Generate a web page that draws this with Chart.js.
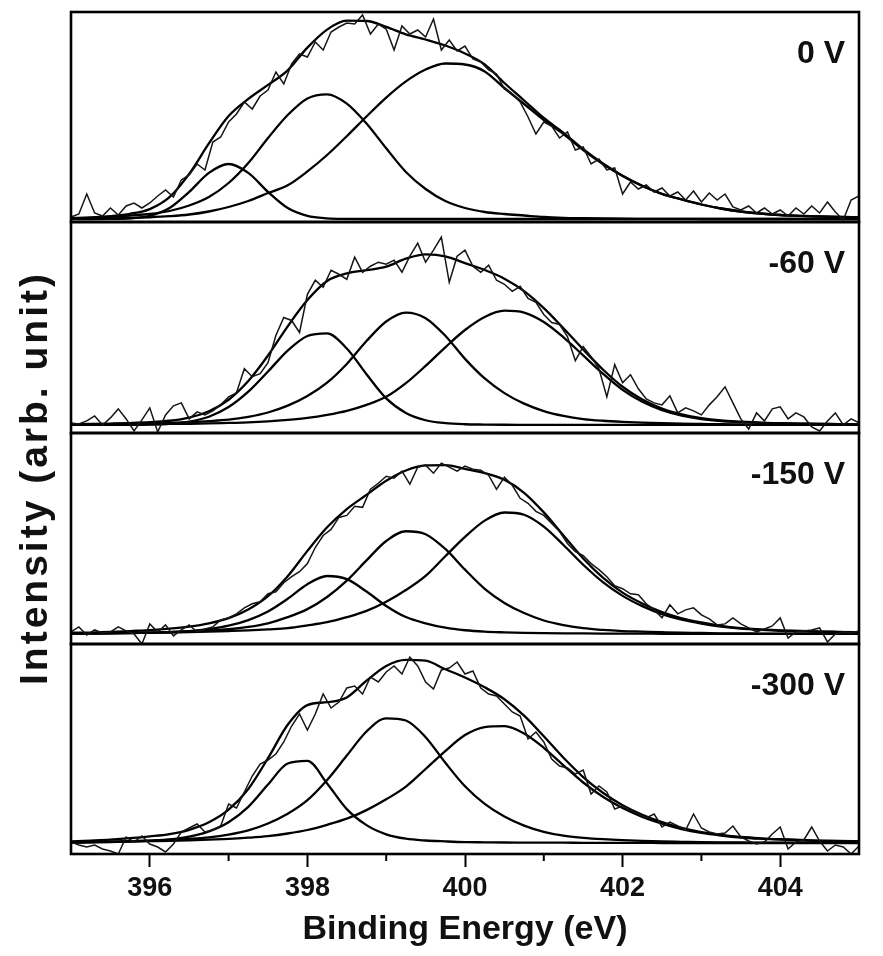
<!DOCTYPE html>
<html>
<head>
<meta charset="utf-8">
<script src="https://cdn.jsdelivr.net/npm/chart.js@4.4.1/dist/chart.umd.min.js"></script>
<style>
  body { margin: 0; background: #fff; }
  #wrap { position: relative; width: 883px; height: 956px; overflow: hidden; }
  #wrap canvas { position: absolute; left: 0; top: 0; }
  .lbl { position: absolute; right: 38px; font: bold 32px/32px "Liberation Sans", Arial, sans-serif; color: #111; white-space: nowrap; }
  #ytitle { position: absolute; left: -216px; top: 456px; width: 500px; height: 44px; line-height: 44px;
            text-align: center; font: bold 39px "Liberation Sans", Arial, sans-serif; letter-spacing: 3px; color: #111;
            transform: rotate(-90deg); white-space: nowrap; }
</style>
</head>
<body>
<div id="wrap">
  <canvas id="c0" width="883" height="956"></canvas>
  <canvas id="c1" width="883" height="956"></canvas>
  <canvas id="c2" width="883" height="956"></canvas>
  <canvas id="c3" width="883" height="956"></canvas>
  <div id="ytitle">Intensity (arb. unit)</div>
</div>
<script>
// panel names (bias voltage)
const panelLabels = ['0 V', '-60 V', '-150 V', '-300 V'];
const tickValues = [396, 398, 400, 402, 404];
const minorTicks = [397, 399, 401, 403];

// binding energy grids (eV)
const rawEnergy = [
  395.0,395.1,395.2,395.3,395.4,395.5,395.6,395.7,395.8,395.9,
  396.0,396.1,396.2,396.3,396.4,396.5,396.6,396.7,396.8,396.9,
  397.0,397.1,397.2,397.3,397.4,397.5,397.6,397.7,397.8,397.9,
  398.0,398.1,398.2,398.3,398.4,398.5,398.6,398.7,398.8,398.9,
  399.0,399.1,399.2,399.3,399.4,399.5,399.6,399.7,399.8,399.9,
  400.0,400.1,400.2,400.3,400.4,400.5,400.6,400.7,400.8,400.9,
  401.0,401.1,401.2,401.3,401.4,401.5,401.6,401.7,401.8,401.9,
  402.0,402.1,402.2,402.3,402.4,402.5,402.6,402.7,402.8,402.9,
  403.0,403.1,403.2,403.3,403.4,403.5,403.6,403.7,403.8,403.9,
  404.0,404.1,404.2,404.3,404.4,404.5,404.6,404.7,404.8,404.9,
  405.0];
const fitEnergy = [395,395.25,395.5,395.75,396,396.25,396.5,396.75,397,397.25,397.5,397.75,
  398,398.25,398.5,398.75,399,399.25,399.5,399.75,400,400.25,400.5,400.75,401,401.25,401.5,401.75,
  402,402.25,402.5,402.75,403,403.25,403.5,403.75,404,404.25,404.5,404.75,405];

// measured spectra (arb. unit)
const raw_0V = [5,8,28,9,6,14,7,16,19,14, 19,26,32,25,42,47,58,52,80,85,
  100,108,120,113,126,132,150,138,158,168, 165,180,172,190,195,199,198,207,188,198,
  193,172,196,188,192,185,203,172,182,171, 176,163,160,152,148,133,128,120,105,88,
  100,96,84,90,72,75,58,63,52,54, 28,40,33,37,30,34,26,30,22,31,
  20,29,22,28,15,12,16,9,14,8, 12,6,14,8,16,9,20,10,2,22, 26];
const raw_60V = [10,9,12,17,8,15,24,14,2,13, 25,1,18,27,30,14,21,18,22,28,
  36,40,64,56,59,70,97,115,112,100, 138,152,145,162,158,153,175,160,166,170,
  168,172,160,176,189,170,182,195,150,176, 182,166,160,167,152,148,141,146,134,130,
  118,110,108,96,72,86,76,64,36,68, 50,58,44,34,30,28,37,20,25,22,
  18,28,36,46,30,14,4,20,12,24, 26,14,20,16,6,2,12,20,8,14, 10];
const raw_150V = [12,17,9,14,11,12,17,13,10,0, 20,12,19,8,14,19,12,15,17,24,
  26,30,36,40,42,50,52,61,67,72, 80,96,108,114,126,128,137,136,154,160,
  167,165,172,159,176,178,170,180,176,172, 177,174,173,168,154,166,158,145,140,132,
  128,120,112,100,92,88,80,74,67,58, 55,50,49,40,34,26,39,30,34,36,
  29,25,19,20,26,20,16,12,15,18, 26,6,12,13,14,16,2,10,12,11, 13];
const raw_300V = [12,9,7,9,5,3,0,17,12,18, 10,7,2,10,22,26,30,22,24,28,
  50,46,62,78,90,94,100,112,128,140, 124,140,160,146,152,166,168,160,177,172,
  182,188,180,197,188,172,165,184,186,192, 180,183,166,160,158,150,142,138,115,122,
  112,95,88,86,80,84,60,68,62,45, 48,44,40,36,40,27,32,28,24,40,
  26,22,20,21,28,17,13,10,12,20, 27,5,12,14,27,13,3,9,7,0, 8];

// fitted envelopes
const env_0V = [4,4.5,5.9,8.2,12.9,24.8,48.1,78.6,106,123.1,137.1,151.7,174.4,192.4,201.3,201,195.1,187.6,182.5,176.5,
  168.5,157.6,139,121.5,104,89.2,72.8,58.5,46.3,36.2,28.1,22.6,17.5,13.5,10.5,8.5,7,6.2,5.5,5,4.7];
const env_60V = [8.8,9,9.4,9.9,10.7,12.2,15.4,21.6,33.1,51.7,77.1,106.2,132.3,151.3,158.8,162,165.5,173.5,177.8,175.9,
  169,162.2,153.6,141.2,124.3,104.2,83.1,63.2,46,33.3,24.4,18.6,14.8,12.5,11.3,10.3,9.7,9.3,9.1,8.8,8.6];
const env_150V = [11.2,11.4,12,12.9,13.8,15.2,17.3,20.6,25.8,34.4,47.6,67.5,92.7,116.2,134.3,148.4,162.4,172.7,177.7,178.1,
  174.3,170,163.4,150.5,131,108,85.1,66,51.1,40.3,31.7,25.6,21.4,18,15.8,14.5,13.5,13,12.4,12,11.5];
const env_300V = [12.5,13.4,14.4,15.8,17.6,19.9,24.2,31.7,44.3,65,95.8,129.2,148.9,151.8,156.6,173.3,188.1,194.2,193.3,184.8,
  176.5,166.7,154.8,138.3,117.7,96.2,76.9,61.2,48.8,39.3,31.9,26.1,21.9,19.1,17,15.7,14.8,14.1,13.4,13.1,12.6];

// fitted components (low, middle, high binding energy)
const peak1_0V = [3,3,3.1,3.7,6.2,14,30.1,49.1,58,49.1,30.1,14,6.2,3.7,3.1,3,3,3,3,3,
  3,3,3,3,3,3,3,3,3,3,3,3,3,3,3,3,3,3,3,3,3];
const peak2_0V = [3.8,4.2,5.2,6.5,8,11,16.5,25,39,59,84,107,123.6,127.7,118.4,98.5,73.7,50,33,21,
  14,10,8,6.5,5,4.2,3.8,3.5,3.3,3.2,3.1,3.1,3,3,3,3,3,3,3,3,3];
const peak3_0V = [3.2,3.3,3.6,4,4.7,5.8,7.5,10.5,15,21,29,36.7,50.6,67,85.8,105.5,124.4,140.6,152.5,158.5,
  157.5,150.6,134,118,102,88,72,58,46,36,28,22.5,17.5,13.5,10.5,8.5,7,6.2,5.5,5,4.7];

const peak1_60V = [8,8,8,8.1,8.3,9.1,11.3,16.2,25.8,41.1,61.2,82,96.5,99.2,84.1,58.5,34.5,20,12.7,9.8,
  8.7,8.4,8.2,8.1,8,8,8,8,8,8,8,8,8,8,8,8,8,8,8,8,8];
const peak2_60V = [8.5,8.6,8.9,9.2,9.6,10.1,10.9,11.9,13.3,16.1,20.4,27.2,36.8,50.1,68.7,91.5,111,119.9,114.3,96.8,
  73.8,54.3,39.7,29.2,21.8,17,13.9,12.2,11.1,10.3,9.7,9.3,9,8.7,8.5,8.3,8.2,8.1,8.1,8,8];
const peak3_60V = [8.3,8.4,8.5,8.6,8.8,9,9.2,9.5,10,10.5,11.5,13,15,18,22,28,36,49.6,66.8,85.3,
  102.5,115.5,121.7,119.9,110.5,95.2,77.2,59,42.9,31,22.7,17.3,13.8,11.8,10.8,10,9.5,9.2,9,8.8,8.6];

const peak1_150V = [10.3,10.4,10.6,10.9,11.3,11.9,12.8,14.8,18.2,23.8,32.4,45,59.5,67.7,64.5,52.2,37.9,26.8,20.6,16.2,
  13.7,12.3,11.6,11.1,10.8,10.6,10.5,10.4,10.3,10.3,10.2,10.2,10.1,10.1,10,10,10,10,10,10,10];
const peak2_150V = [10.4,10.5,10.8,11.1,11.4,11.9,12.7,13.5,14.7,17,20.6,26.7,34.7,46.8,63.1,83.2,102.5,112.2,109.3,94.6,
  74,54.9,40.9,30.8,23.4,18.9,15.7,14,12.9,12.3,11.7,11.2,11,10.6,10.5,10.4,10.3,10.3,10.2,10.2,10.1];
const peak3_150V = [10.5,10.5,10.6,10.9,11.1,11.4,11.8,12.3,12.9,13.6,14.6,15.8,18.5,21.7,26.7,33,42,53.7,67.8,87.3,
  106.6,122.8,130.9,128.6,116.8,98.5,78.9,61.6,47.9,37.7,29.8,24.2,20.3,17.3,15.3,14.1,13.2,12.7,12.2,11.8,11.4];

const peak1_300V = [11.3,11.7,12,12.6,13.4,14.5,17.3,22.6,31.8,47.1,69.4,90.5,93.1,70.6,44.9,28.9,19.7,15.3,13.5,12.6,
  11.9,11.7,11.5,11.4,11.3,11.3,11.2,11.2,11.1,11.1,11,11,11,11,11,11,11,11,11,11,11];
const peak2_300V = [11.6,11.9,12.3,12.8,13.4,14.2,15.2,16.7,19.4,23.6,30.5,40.2,53.8,74,98.4,122.5,135.7,133.5,116.8,91.3,
  67.7,50.1,37.5,28.4,22.2,18.3,16.2,14.8,13.8,13.1,12.6,12.2,11.8,11.6,11.5,11.4,11.3,11.3,11.2,11.2,11.1];
const peak3_300V = [11.6,11.8,12.1,12.4,12.8,13.2,13.7,14.4,15.1,16.3,17.9,20.5,24,29.2,35.3,43.9,54.7,67.4,85,102.9,
  118.9,126.9,127.8,120.5,106.2,88.6,71.5,57.2,45.9,37.1,30.3,24.9,21.1,18.5,16.5,15.3,14.5,13.8,13.2,12.9,12.5];

const rawSeries = [raw_0V, raw_60V, raw_150V, raw_300V];
const envSeries = [env_0V, env_60V, env_150V, env_300V];
const peakSeries = [
  [peak1_0V, peak2_0V, peak3_0V],
  [peak1_60V, peak2_60V, peak3_60V],
  [peak1_150V, peak2_150V, peak3_150V],
  [peak1_300V, peak2_300V, peak3_300V]
];

// layout of the stacked panels (page pixels)
const panelTop = [12, 222, 433, 644];
const panelBottom = [222, 433, 644, 854];
const fontFam = '"Liberation Sans", Arial, sans-serif';

function pts(xs, ys) {
  return xs.map((x, i) => ({x: x, y: ys[i]}));
}

const framePlugin = {
  id: 'frame',
  afterDatasetsDraw(chart) {
    const a = chart.chartArea;
    const ctx = chart.ctx;
    ctx.save();
    ctx.lineWidth = 2.6;
    ctx.strokeStyle = '#000';
    ctx.strokeRect(a.left, a.top, a.right - a.left, a.bottom - a.top);
    ctx.restore();
  }
};

// shorter ticks for the odd energies
const minorTickPlugin = {
  id: 'minorTicks',
  afterDraw(chart) {
    const sx = chart.scales.x;
    if (!sx.options.display) return;
    const ctx = chart.ctx;
    ctx.save();
    ctx.lineWidth = 2;
    ctx.strokeStyle = '#000';
    minorTicks.forEach(v => {
      const px = sx.getPixelForValue(v);
      ctx.beginPath();
      ctx.moveTo(px, sx.top);
      ctx.lineTo(px, sx.top + 7);
      ctx.stroke();
    });
    ctx.restore();
  }
};

for (let i = 0; i < 4; i++) {
  const last = (i === 3);
  const ds = [];
  ds.push({data: pts(rawEnergy, rawSeries[i]), borderColor: '#151515', borderWidth: 1.5, tension: 0});
  peakSeries[i].forEach(p => {
    ds.push({data: pts(fitEnergy, p), borderColor: '#000', borderWidth: 2.3, cubicInterpolationMode: 'monotone'});
  });
  ds.push({data: pts(fitEnergy, envSeries[i]), borderColor: '#000', borderWidth: 2.3, cubicInterpolationMode: 'monotone'});

  const xScale = {
    type: 'linear', min: 395, max: 405, display: last,
    afterBuildTicks: s => { s.ticks = tickValues.map(v => ({value: v})); },
    border: {display: false},
    grid: {drawOnChartArea: false, tickLength: 13, tickWidth: 2, tickColor: '#000'},
    ticks: {color: '#111', padding: 5, font: {family: fontFam, size: 27, weight: 'bold'}},
    title: {display: true, text: 'Binding Energy (eV)', color: '#111', padding: {top: 0, bottom: 6},
            font: {family: fontFam, size: 34, weight: 'bold'}}
  };
  if (last) xScale.afterFit = s => { s.height = 102; };

  new Chart(document.getElementById('c' + i), {
    type: 'line',
    data: {datasets: ds},
    options: {
      responsive: false,
      animation: false,
      layout: {padding: {left: 71, right: 24, top: panelTop[i], bottom: last ? 0 : 956 - panelBottom[i]}},
      elements: {point: {radius: 0}},
      plugins: {legend: {display: false}, tooltip: {enabled: false}},
      scales: {
        x: xScale,
        y: {min: 0, max: 210, display: false}
      }
    },
    plugins: [framePlugin, minorTickPlugin]
  });

  const lbl = document.createElement('div');
  lbl.className = 'lbl';
  lbl.style.top = (panelTop[i] + 24) + 'px';
  lbl.textContent = panelLabels[i];
  document.getElementById('wrap').appendChild(lbl);
}
</script>
</body>
</html>
